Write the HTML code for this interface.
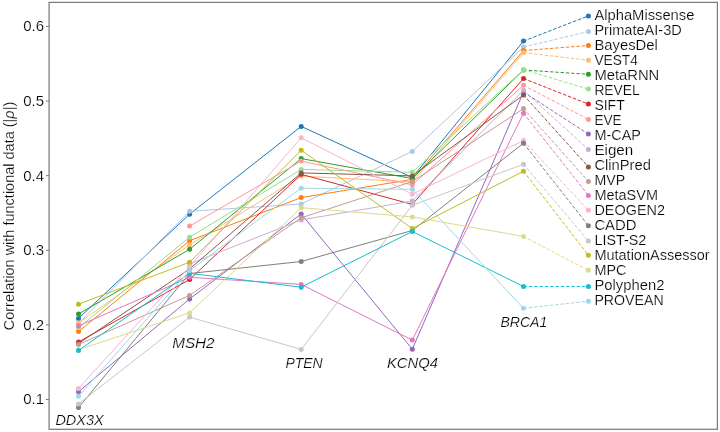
<!DOCTYPE html>
<html><head><meta charset="utf-8"><title>Correlation with functional data</title>
<style>html,body{margin:0;padding:0;background:#fff;}svg{display:block;}text{font-family:"Liberation Sans", sans-serif;fill:#000;stroke:#fff;stroke-width:0.2px;}</style></head><body>
<svg width="720" height="432" viewBox="0 0 720 432">
<rect x="0" y="0" width="720" height="432" fill="#ffffff"/>
<g stroke="#1f77b4" fill="#1f77b4">
<polyline points="78.5,318.4 189.6,214.2 301.2,126.4 412.3,177.5 523.5,41.1" fill="none" stroke-width="1" stroke-linejoin="round"/>
<line x1="523.5" y1="41.1" x2="588.4" y2="15.9" stroke-width="1" stroke-dasharray="3.5 1.8"/>
<circle cx="78.5" cy="318.4" r="2.50" stroke="none"/>
<circle cx="189.6" cy="214.2" r="2.50" stroke="none"/>
<circle cx="301.2" cy="126.4" r="2.50" stroke="none"/>
<circle cx="412.3" cy="177.5" r="2.50" stroke="none"/>
<circle cx="523.5" cy="41.1" r="2.50" stroke="none"/>
<circle cx="588.4" cy="15.9" r="2.50" stroke="none"/>
</g>
<g stroke="#aec7e8" fill="#aec7e8">
<polyline points="78.5,323.3 189.6,211.3 301.2,204.0 412.3,151.4 523.5,47.1" fill="none" stroke-width="1" stroke-linejoin="round"/>
<line x1="523.5" y1="47.1" x2="588.4" y2="31.5" stroke-width="1" stroke-dasharray="3.5 1.8"/>
<circle cx="78.5" cy="323.3" r="2.50" stroke="none"/>
<circle cx="189.6" cy="211.3" r="2.50" stroke="none"/>
<circle cx="301.2" cy="204.0" r="2.50" stroke="none"/>
<circle cx="412.3" cy="151.4" r="2.50" stroke="none"/>
<circle cx="523.5" cy="47.1" r="2.50" stroke="none"/>
<circle cx="588.4" cy="31.5" r="2.50" stroke="none"/>
</g>
<g stroke="#ff7f0e" fill="#ff7f0e">
<polyline points="78.5,331.6 189.6,240.7 301.2,197.6 412.3,179.4 523.5,50.6" fill="none" stroke-width="1" stroke-linejoin="round"/>
<line x1="523.5" y1="50.6" x2="588.4" y2="45.5" stroke-width="1" stroke-dasharray="3.5 1.8"/>
<circle cx="78.5" cy="331.6" r="2.50" stroke="none"/>
<circle cx="189.6" cy="240.7" r="2.50" stroke="none"/>
<circle cx="301.2" cy="197.6" r="2.50" stroke="none"/>
<circle cx="412.3" cy="179.4" r="2.50" stroke="none"/>
<circle cx="523.5" cy="50.6" r="2.50" stroke="none"/>
<circle cx="588.4" cy="45.5" r="2.50" stroke="none"/>
</g>
<g stroke="#ffbb78" fill="#ffbb78">
<polyline points="78.5,323.0 189.6,244.9 301.2,176.1 412.3,182.0 523.5,52.6" fill="none" stroke-width="1" stroke-linejoin="round"/>
<line x1="523.5" y1="52.6" x2="588.4" y2="60.3" stroke-width="1" stroke-dasharray="3.5 1.8"/>
<circle cx="78.5" cy="323.0" r="2.50" stroke="none"/>
<circle cx="189.6" cy="244.9" r="2.50" stroke="none"/>
<circle cx="301.2" cy="176.1" r="2.50" stroke="none"/>
<circle cx="412.3" cy="182.0" r="2.50" stroke="none"/>
<circle cx="523.5" cy="52.6" r="2.50" stroke="none"/>
<circle cx="588.4" cy="60.3" r="2.50" stroke="none"/>
</g>
<g stroke="#2ca02c" fill="#2ca02c">
<polyline points="78.5,314.0 189.6,249.3 301.2,158.6 412.3,178.5 523.5,70.0" fill="none" stroke-width="1" stroke-linejoin="round"/>
<line x1="523.5" y1="70.0" x2="588.4" y2="74.3" stroke-width="1" stroke-dasharray="3.5 1.8"/>
<circle cx="78.5" cy="314.0" r="2.50" stroke="none"/>
<circle cx="189.6" cy="249.3" r="2.50" stroke="none"/>
<circle cx="301.2" cy="158.6" r="2.50" stroke="none"/>
<circle cx="412.3" cy="178.5" r="2.50" stroke="none"/>
<circle cx="523.5" cy="70.0" r="2.50" stroke="none"/>
<circle cx="588.4" cy="74.3" r="2.50" stroke="none"/>
</g>
<g stroke="#98df8a" fill="#98df8a">
<polyline points="78.5,327.8 189.6,237.2 301.2,169.4 412.3,172.3 523.5,69.7" fill="none" stroke-width="1" stroke-linejoin="round"/>
<line x1="523.5" y1="69.7" x2="588.4" y2="89.1" stroke-width="1" stroke-dasharray="3.5 1.8"/>
<circle cx="78.5" cy="327.8" r="2.50" stroke="none"/>
<circle cx="189.6" cy="237.2" r="2.50" stroke="none"/>
<circle cx="301.2" cy="169.4" r="2.50" stroke="none"/>
<circle cx="412.3" cy="172.3" r="2.50" stroke="none"/>
<circle cx="523.5" cy="69.7" r="2.50" stroke="none"/>
<circle cx="588.4" cy="89.1" r="2.50" stroke="none"/>
</g>
<g stroke="#d62728" fill="#d62728">
<polyline points="78.5,342.0 189.6,279.5 301.2,174.3 412.3,204.4 523.5,78.5" fill="none" stroke-width="1" stroke-linejoin="round"/>
<line x1="523.5" y1="78.5" x2="588.4" y2="104.1" stroke-width="1" stroke-dasharray="3.5 1.8"/>
<circle cx="78.5" cy="342.0" r="2.50" stroke="none"/>
<circle cx="189.6" cy="279.5" r="2.50" stroke="none"/>
<circle cx="301.2" cy="174.3" r="2.50" stroke="none"/>
<circle cx="412.3" cy="204.4" r="2.50" stroke="none"/>
<circle cx="523.5" cy="78.5" r="2.50" stroke="none"/>
<circle cx="588.4" cy="104.1" r="2.50" stroke="none"/>
</g>
<g stroke="#ff9896" fill="#ff9896">
<polyline points="189.6,226.1 301.2,161.1 412.3,184.8 523.5,85.3" fill="none" stroke-width="1" stroke-linejoin="round"/>
<line x1="523.5" y1="85.3" x2="588.4" y2="119.4" stroke-width="1" stroke-dasharray="3.5 1.8"/>
<circle cx="189.6" cy="226.1" r="2.50" stroke="none"/>
<circle cx="301.2" cy="161.1" r="2.50" stroke="none"/>
<circle cx="412.3" cy="184.8" r="2.50" stroke="none"/>
<circle cx="523.5" cy="85.3" r="2.50" stroke="none"/>
<circle cx="588.4" cy="119.4" r="2.50" stroke="none"/>
</g>
<g stroke="#9467bd" fill="#9467bd">
<polyline points="78.5,391.7 189.6,299.0 301.2,213.9 412.3,349.2 523.5,92.0" fill="none" stroke-width="1" stroke-linejoin="round"/>
<line x1="523.5" y1="92.0" x2="588.4" y2="134.1" stroke-width="1" stroke-dasharray="3.5 1.8"/>
<circle cx="78.5" cy="391.7" r="2.50" stroke="none"/>
<circle cx="189.6" cy="299.0" r="2.50" stroke="none"/>
<circle cx="301.2" cy="213.9" r="2.50" stroke="none"/>
<circle cx="412.3" cy="349.2" r="2.50" stroke="none"/>
<circle cx="523.5" cy="92.0" r="2.50" stroke="none"/>
<circle cx="588.4" cy="134.1" r="2.50" stroke="none"/>
</g>
<g stroke="#c5b0d5" fill="#c5b0d5">
<polyline points="189.6,264.0 301.2,219.9 412.3,201.1 523.5,90.3" fill="none" stroke-width="1" stroke-linejoin="round"/>
<line x1="523.5" y1="90.3" x2="588.4" y2="149.6" stroke-width="1" stroke-dasharray="3.5 1.8"/>
<circle cx="189.6" cy="264.0" r="2.50" stroke="none"/>
<circle cx="301.2" cy="219.9" r="2.50" stroke="none"/>
<circle cx="412.3" cy="201.1" r="2.50" stroke="none"/>
<circle cx="523.5" cy="90.3" r="2.50" stroke="none"/>
<circle cx="588.4" cy="149.6" r="2.50" stroke="none"/>
</g>
<g stroke="#8c564b" fill="#8c564b">
<polyline points="78.5,343.5 189.6,269.0 301.2,172.9 412.3,175.9 523.5,95.0" fill="none" stroke-width="1" stroke-linejoin="round"/>
<line x1="523.5" y1="95.0" x2="588.4" y2="166.9" stroke-width="1" stroke-dasharray="3.5 1.8"/>
<circle cx="78.5" cy="343.5" r="2.50" stroke="none"/>
<circle cx="189.6" cy="269.0" r="2.50" stroke="none"/>
<circle cx="301.2" cy="172.9" r="2.50" stroke="none"/>
<circle cx="412.3" cy="175.9" r="2.50" stroke="none"/>
<circle cx="523.5" cy="95.0" r="2.50" stroke="none"/>
<circle cx="588.4" cy="166.9" r="2.50" stroke="none"/>
</g>
<g stroke="#c49c94" fill="#c49c94">
<polyline points="78.5,344.5 189.6,295.4 301.2,217.8 412.3,181.6 523.5,108.6" fill="none" stroke-width="1" stroke-linejoin="round"/>
<line x1="523.5" y1="108.6" x2="588.4" y2="181.5" stroke-width="1" stroke-dasharray="3.5 1.8"/>
<circle cx="78.5" cy="344.5" r="2.50" stroke="none"/>
<circle cx="189.6" cy="295.4" r="2.50" stroke="none"/>
<circle cx="301.2" cy="217.8" r="2.50" stroke="none"/>
<circle cx="412.3" cy="181.6" r="2.50" stroke="none"/>
<circle cx="523.5" cy="108.6" r="2.50" stroke="none"/>
<circle cx="588.4" cy="181.5" r="2.50" stroke="none"/>
</g>
<g stroke="#e377c2" fill="#e377c2">
<polyline points="78.5,325.8 189.6,277.3 301.2,284.4 412.3,340.1 523.5,113.2" fill="none" stroke-width="1" stroke-linejoin="round"/>
<line x1="523.5" y1="113.2" x2="588.4" y2="195.4" stroke-width="1" stroke-dasharray="3.5 1.8"/>
<circle cx="78.5" cy="325.8" r="2.50" stroke="none"/>
<circle cx="189.6" cy="277.3" r="2.50" stroke="none"/>
<circle cx="301.2" cy="284.4" r="2.50" stroke="none"/>
<circle cx="412.3" cy="340.1" r="2.50" stroke="none"/>
<circle cx="523.5" cy="113.2" r="2.50" stroke="none"/>
<circle cx="588.4" cy="195.4" r="2.50" stroke="none"/>
</g>
<g stroke="#f7b6d2" fill="#f7b6d2">
<polyline points="78.5,388.4 189.6,266.6 301.2,137.8 412.3,194.2 523.5,140.6" fill="none" stroke-width="1" stroke-linejoin="round"/>
<line x1="523.5" y1="140.6" x2="588.4" y2="210.3" stroke-width="1" stroke-dasharray="3.5 1.8"/>
<circle cx="78.5" cy="388.4" r="2.50" stroke="none"/>
<circle cx="189.6" cy="266.6" r="2.50" stroke="none"/>
<circle cx="301.2" cy="137.8" r="2.50" stroke="none"/>
<circle cx="412.3" cy="194.2" r="2.50" stroke="none"/>
<circle cx="523.5" cy="140.6" r="2.50" stroke="none"/>
<circle cx="588.4" cy="210.3" r="2.50" stroke="none"/>
</g>
<g stroke="#7f7f7f" fill="#7f7f7f">
<polyline points="78.5,407.6 189.6,273.5 301.2,261.5 412.3,230.5 523.5,143.2" fill="none" stroke-width="1" stroke-linejoin="round"/>
<line x1="523.5" y1="143.2" x2="588.4" y2="225.7" stroke-width="1" stroke-dasharray="3.5 1.8"/>
<circle cx="78.5" cy="407.6" r="2.50" stroke="none"/>
<circle cx="189.6" cy="273.5" r="2.50" stroke="none"/>
<circle cx="301.2" cy="261.5" r="2.50" stroke="none"/>
<circle cx="412.3" cy="230.5" r="2.50" stroke="none"/>
<circle cx="523.5" cy="143.2" r="2.50" stroke="none"/>
<circle cx="588.4" cy="225.7" r="2.50" stroke="none"/>
</g>
<g stroke="#c7c7c7" fill="#c7c7c7">
<polyline points="78.5,403.9 189.6,317.1 301.2,349.4 412.3,205.3 523.5,164.3" fill="none" stroke-width="1" stroke-linejoin="round"/>
<line x1="523.5" y1="164.3" x2="588.4" y2="241.0" stroke-width="1" stroke-dasharray="3.5 1.8"/>
<circle cx="78.5" cy="403.9" r="2.50" stroke="none"/>
<circle cx="189.6" cy="317.1" r="2.50" stroke="none"/>
<circle cx="301.2" cy="349.4" r="2.50" stroke="none"/>
<circle cx="412.3" cy="205.3" r="2.50" stroke="none"/>
<circle cx="523.5" cy="164.3" r="2.50" stroke="none"/>
<circle cx="588.4" cy="241.0" r="2.50" stroke="none"/>
</g>
<g stroke="#bcbd22" fill="#bcbd22">
<polyline points="78.5,304.2 189.6,262.2 301.2,150.3 412.3,228.5 523.5,171.2" fill="none" stroke-width="1" stroke-linejoin="round"/>
<line x1="523.5" y1="171.2" x2="588.4" y2="255.3" stroke-width="1" stroke-dasharray="3.5 1.8"/>
<circle cx="78.5" cy="304.2" r="2.50" stroke="none"/>
<circle cx="189.6" cy="262.2" r="2.50" stroke="none"/>
<circle cx="301.2" cy="150.3" r="2.50" stroke="none"/>
<circle cx="412.3" cy="228.5" r="2.50" stroke="none"/>
<circle cx="523.5" cy="171.2" r="2.50" stroke="none"/>
<circle cx="588.4" cy="255.3" r="2.50" stroke="none"/>
</g>
<g stroke="#dbdb8d" fill="#dbdb8d">
<polyline points="78.5,349.7 189.6,312.9 301.2,207.7 412.3,216.9 523.5,236.4" fill="none" stroke-width="1" stroke-linejoin="round"/>
<line x1="523.5" y1="236.4" x2="588.4" y2="270.3" stroke-width="1" stroke-dasharray="3.5 1.8"/>
<circle cx="78.5" cy="349.7" r="2.50" stroke="none"/>
<circle cx="189.6" cy="312.9" r="2.50" stroke="none"/>
<circle cx="301.2" cy="207.7" r="2.50" stroke="none"/>
<circle cx="412.3" cy="216.9" r="2.50" stroke="none"/>
<circle cx="523.5" cy="236.4" r="2.50" stroke="none"/>
<circle cx="588.4" cy="270.3" r="2.50" stroke="none"/>
</g>
<g stroke="#17becf" fill="#17becf">
<polyline points="78.5,350.4 189.6,273.3 301.2,287.2 412.3,231.5 523.5,286.5" fill="none" stroke-width="1" stroke-linejoin="round"/>
<line x1="523.5" y1="286.5" x2="588.4" y2="286.4" stroke-width="1" stroke-dasharray="3.5 1.8"/>
<circle cx="78.5" cy="350.4" r="2.50" stroke="none"/>
<circle cx="189.6" cy="273.3" r="2.50" stroke="none"/>
<circle cx="301.2" cy="287.2" r="2.50" stroke="none"/>
<circle cx="412.3" cy="231.5" r="2.50" stroke="none"/>
<circle cx="523.5" cy="286.5" r="2.50" stroke="none"/>
<circle cx="588.4" cy="286.4" r="2.50" stroke="none"/>
</g>
<g stroke="#9edae5" fill="#9edae5">
<polyline points="78.5,396.3 189.6,270.5 301.2,188.2 412.3,189.3 523.5,308.3" fill="none" stroke-width="1" stroke-linejoin="round"/>
<line x1="523.5" y1="308.3" x2="588.4" y2="301.2" stroke-width="1" stroke-dasharray="3.5 1.8"/>
<circle cx="78.5" cy="396.3" r="2.50" stroke="none"/>
<circle cx="189.6" cy="270.5" r="2.50" stroke="none"/>
<circle cx="301.2" cy="188.2" r="2.50" stroke="none"/>
<circle cx="412.3" cy="189.3" r="2.50" stroke="none"/>
<circle cx="523.5" cy="308.3" r="2.50" stroke="none"/>
<circle cx="588.4" cy="301.2" r="2.50" stroke="none"/>
</g>
<text x="594.4" y="19.9" font-size="14" textLength="100.0" lengthAdjust="spacingAndGlyphs">AlphaMissense</text>
<text x="594.4" y="34.9" font-size="14" textLength="87.4" lengthAdjust="spacingAndGlyphs">PrimateAI-3D</text>
<text x="594.4" y="49.9" font-size="14" textLength="63.5" lengthAdjust="spacingAndGlyphs">BayesDel</text>
<text x="594.4" y="64.9" font-size="14" textLength="43.5" lengthAdjust="spacingAndGlyphs">VEST4</text>
<text x="594.4" y="79.9" font-size="14" textLength="64.9" lengthAdjust="spacingAndGlyphs">MetaRNN</text>
<text x="594.4" y="94.9" font-size="14" textLength="45.2" lengthAdjust="spacingAndGlyphs">REVEL</text>
<text x="594.4" y="109.9" font-size="14" textLength="30.3" lengthAdjust="spacingAndGlyphs">SIFT</text>
<text x="594.4" y="124.9" font-size="14" textLength="27.2" lengthAdjust="spacingAndGlyphs">EVE</text>
<text x="594.4" y="139.9" font-size="14" textLength="46.5" lengthAdjust="spacingAndGlyphs">M-CAP</text>
<text x="594.4" y="154.9" font-size="14" textLength="38.8" lengthAdjust="spacingAndGlyphs">Eigen</text>
<text x="594.4" y="169.9" font-size="14" textLength="56.5" lengthAdjust="spacingAndGlyphs">ClinPred</text>
<text x="594.4" y="184.9" font-size="14" textLength="30.7" lengthAdjust="spacingAndGlyphs">MVP</text>
<text x="594.4" y="199.9" font-size="14" textLength="63.6" lengthAdjust="spacingAndGlyphs">MetaSVM</text>
<text x="594.4" y="214.9" font-size="14" textLength="70.6" lengthAdjust="spacingAndGlyphs">DEOGEN2</text>
<text x="594.4" y="229.9" font-size="14" textLength="42.1" lengthAdjust="spacingAndGlyphs">CADD</text>
<text x="594.4" y="244.9" font-size="14" textLength="52.0" lengthAdjust="spacingAndGlyphs">LIST-S2</text>
<text x="594.4" y="259.9" font-size="14" textLength="115.2" lengthAdjust="spacingAndGlyphs">MutationAssessor</text>
<text x="594.4" y="274.9" font-size="14" textLength="32.0" lengthAdjust="spacingAndGlyphs">MPC</text>
<text x="594.4" y="289.9" font-size="14" textLength="70.0" lengthAdjust="spacingAndGlyphs">Polyphen2</text>
<text x="594.4" y="304.9" font-size="14" textLength="69.3" lengthAdjust="spacingAndGlyphs">PROVEAN</text>
<rect x="49.1" y="2.4" width="668.3" height="426.9" fill="none" stroke="#7c7c7c" stroke-width="1.25"/>
<line x1="45.9" y1="26.45" x2="49.1" y2="26.45" stroke="#7c7c7c" stroke-width="1"/>
<text x="44.0" y="31.3" font-size="15" text-anchor="end">0.6</text>
<line x1="45.9" y1="101.05" x2="49.1" y2="101.05" stroke="#7c7c7c" stroke-width="1"/>
<text x="44.0" y="105.9" font-size="15" text-anchor="end">0.5</text>
<line x1="45.9" y1="175.65" x2="49.1" y2="175.65" stroke="#7c7c7c" stroke-width="1"/>
<text x="44.0" y="180.5" font-size="15" text-anchor="end">0.4</text>
<line x1="45.9" y1="250.25" x2="49.1" y2="250.25" stroke="#7c7c7c" stroke-width="1"/>
<text x="44.0" y="255.1" font-size="15" text-anchor="end">0.3</text>
<line x1="45.9" y1="324.85" x2="49.1" y2="324.85" stroke="#7c7c7c" stroke-width="1"/>
<text x="44.0" y="329.7" font-size="15" text-anchor="end">0.2</text>
<line x1="45.9" y1="399.45" x2="49.1" y2="399.45" stroke="#7c7c7c" stroke-width="1"/>
<text x="44.0" y="404.3" font-size="15" text-anchor="end">0.1</text>
<text x="55.4" y="424.6" font-size="14" font-style="italic" textLength="48.2" lengthAdjust="spacingAndGlyphs">DDX3X</text>
<text x="172.2" y="348.3" font-size="14" font-style="italic" textLength="42.4" lengthAdjust="spacingAndGlyphs">MSH2</text>
<text x="285.4" y="367.9" font-size="14" font-style="italic" textLength="37.3" lengthAdjust="spacingAndGlyphs">PTEN</text>
<text x="387.0" y="367.9" font-size="14" font-style="italic" textLength="51.0" lengthAdjust="spacingAndGlyphs">KCNQ4</text>
<text x="500.4" y="326.8" font-size="14" font-style="italic" textLength="46.9" lengthAdjust="spacingAndGlyphs">BRCA1</text>
<text transform="translate(14,216) rotate(-90)" font-size="14.5" textLength="228.6" lengthAdjust="spacingAndGlyphs" x="-114.3">Correlation with functional data (|<tspan font-style="italic">ρ</tspan>|)</text>
</svg></body></html>
